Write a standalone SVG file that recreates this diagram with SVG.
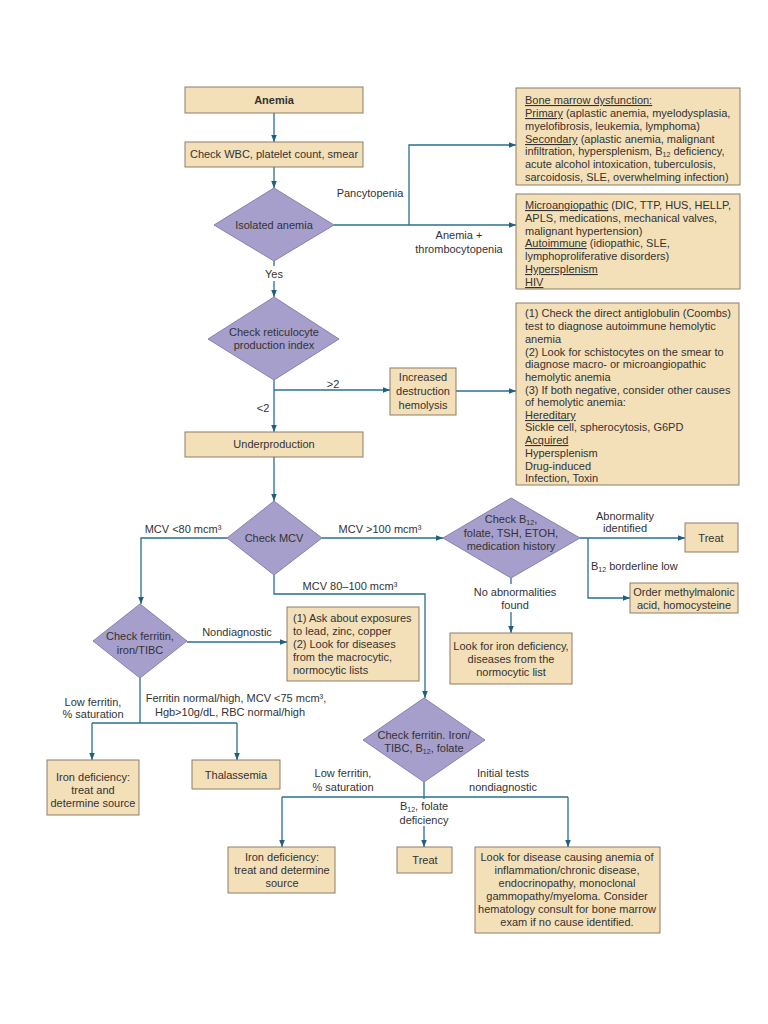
<svg xmlns="http://www.w3.org/2000/svg" width="768" height="1024" viewBox="0 0 768 1024">
<style>
text{font-family:"Liberation Sans",Arial,sans-serif;font-size:11px;fill:#333}
.c{text-anchor:middle}
.b{fill:#f3dfb8;stroke:#8f7d68;stroke-width:1}
.d{fill:#a69ecb;stroke:#8880b3;stroke-width:1}
.l{fill:none;stroke:#2b6e8e;stroke-width:1.3}
.u{text-decoration:underline}
.s{font-size:7px}
</style>
<defs>
<marker id="a" viewBox="0 0 10 10" refX="10" refY="5" markerWidth="7" markerHeight="7" orient="auto" markerUnits="userSpaceOnUse">
<path d="M0,1 L10,5 L0,9 z" fill="#1f5f80"/>
</marker>
</defs>
<rect width="768" height="1024" fill="#fff"/>

<g id="connectors">
<path class="l" d="M274,113 V142" marker-end="url(#a)"/>
<path class="l" d="M274,167 V188" marker-end="url(#a)"/>
<path class="l" d="M334,225 H516" marker-end="url(#a)"/>
<path class="l" d="M409,225 V145 H516" marker-end="url(#a)"/>
<path class="l" d="M274,261 V266"/>
<path class="l" d="M274,281 V297" marker-end="url(#a)"/>
<path class="l" d="M274,380 V432" marker-end="url(#a)"/>
<path class="l" d="M274,390 H390" marker-end="url(#a)"/>
<path class="l" d="M456,391 H516" marker-end="url(#a)"/>
<path class="l" d="M274,457 V501" marker-end="url(#a)"/>
<path class="l" d="M227,538 H141 V604" marker-end="url(#a)"/>
<path class="l" d="M322,538 H443" marker-end="url(#a)"/>
<path class="l" d="M274,575 V594 H425 V698" marker-end="url(#a)"/>
<path class="l" d="M580,538 H685" marker-end="url(#a)"/>
<path class="l" d="M588,538 V598 H630" marker-end="url(#a)"/>
<path class="l" d="M511,578 V584"/>
<path class="l" d="M511,612 V633" marker-end="url(#a)"/>
<path class="l" d="M187,642 H287" marker-end="url(#a)"/>
<path class="l" d="M140,678 V723"/>
<path class="l" d="M92,723 H237"/>
<path class="l" d="M92,723 V760" marker-end="url(#a)"/>
<path class="l" d="M237,723 V760" marker-end="url(#a)"/>
<path class="l" d="M424,782 V797"/>
<path class="l" d="M282,797 H568"/>
<path class="l" d="M282,797 V847" marker-end="url(#a)"/>
<path class="l" d="M568,797 V847" marker-end="url(#a)"/>
<path class="l" d="M424,797 V799"/>
<path class="l" d="M424,826 V847" marker-end="url(#a)"/>
</g>

<g id="labels">
<text class="c" x="370" y="197">Pancytopenia</text>
<text class="c" x="459" y="239">Anemia +</text>
<text class="c" x="459" y="253">thrombocytopenia</text>
<text class="c" x="274" y="278">Yes</text>
<text class="c" x="333" y="388">&gt;2</text>
<text class="c" x="263" y="412">&lt;2</text>
<text class="c" x="183" y="533">MCV &lt;80 mcm³</text>
<text class="c" x="380" y="533">MCV &gt;100 mcm³</text>
<text class="c" x="350" y="590">MCV 80–100 mcm³</text>
<text class="c" x="625" y="520">Abnormality</text>
<text class="c" x="625" y="532">identified</text>
<text x="591" y="570">B<tspan class="s" dy="2">12</tspan><tspan dy="-2"> borderline low</tspan></text>
<text class="c" x="515" y="596">No abnormalities</text>
<text class="c" x="515" y="609">found</text>
<text class="c" x="237" y="636">Nondiagnostic</text>
<text class="c" x="93" y="706">Low ferritin,</text>
<text class="c" x="93" y="718">% saturation</text>
<text class="c" x="236" y="702">Ferritin normal/high, MCV &lt;75 mcm³,</text>
<text class="c" x="230" y="716">Hgb&gt;10g/dL, RBC normal/high</text>
<text class="c" x="343" y="777">Low ferritin,</text>
<text class="c" x="343" y="791">% saturation</text>
<text class="c" x="503" y="777">Initial tests</text>
<text class="c" x="503" y="791">nondiagnostic</text>
<text class="c" x="424" y="810">B<tspan class="s" dy="2">12</tspan><tspan dy="-2">, folate</tspan></text>
<text class="c" x="424" y="824">deficiency</text>
</g>

<g id="anemia">
<rect class="b" x="185" y="87" width="178" height="26"/>
<text class="c" x="274" y="104" font-weight="bold">Anemia</text>
</g>
<g id="check-wbc">
<rect class="b" x="185" y="142" width="178" height="25"/>
<text class="c" x="274" y="158">Check WBC, platelet count, smear</text>
</g>
<g id="isolated-anemia">
<polygon class="d" points="274,188 334,225 274,261 214,225"/>
<text class="c" x="274" y="229">Isolated anemia</text>
</g>
<g id="bone-marrow">
<rect class="b" x="516" y="88" width="224" height="97"/>
<text x="525" y="104"><tspan class="u">Bone marrow dysfunction:</tspan></text>
<text x="525" y="117"><tspan class="u">Primary</tspan> (aplastic anemia, myelodysplasia,</text>
<text x="525" y="130">myelofibrosis, leukemia, lymphoma)</text>
<text x="525" y="143"><tspan class="u">Secondary</tspan> (aplastic anemia, malignant</text>
<text x="525" y="155">infiltration, hypersplenism, B<tspan class="s" dy="2">12</tspan><tspan dy="-2"> deficiency,</tspan></text>
<text x="525" y="168">acute alcohol intoxication, tuberculosis,</text>
<text x="525" y="181">sarcoidosis, SLE, overwhelming infection)</text>
</g>
<g id="microangiopathic">
<rect class="b" x="516" y="194" width="224" height="95"/>
<text x="525" y="209"><tspan class="u">Microangiopathic</tspan> (DIC, TTP, HUS, HELLP,</text>
<text x="525" y="222">APLS, medications, mechanical valves,</text>
<text x="525" y="235">malignant hypertension)</text>
<text x="525" y="247"><tspan class="u">Autoimmune</tspan> (idiopathic, SLE,</text>
<text x="525" y="260">lymphoproliferative disorders)</text>
<text x="525" y="273"><tspan class="u">Hypersplenism</tspan></text>
<text x="525" y="286"><tspan class="u">HIV</tspan></text>
</g>
<g id="reticulocyte">
<polygon class="d" points="274,297 339,339 274,380 208,339"/>
<text class="c" x="274" y="336">Check reticulocyte</text>
<text class="c" x="274" y="349">production index</text>
</g>
<g id="destruction">
<rect class="b" x="390" y="368" width="66" height="47"/>
<text class="c" x="423" y="381">Increased</text>
<text class="c" x="423" y="395">destruction</text>
<text class="c" x="423" y="409">hemolysis</text>
</g>
<g id="hemolysis-box">
<rect class="b" x="516" y="303" width="223" height="182"/>
<text x="525" y="317">(1) Check the direct antiglobulin (Coombs)</text>
<text x="525" y="330">test to diagnose autoimmune hemolytic</text>
<text x="525" y="343">anemia</text>
<text x="525" y="356">(2) Look for schistocytes on the smear to</text>
<text x="525" y="368">diagnose macro- or microangiopathic</text>
<text x="525" y="381">hemolytic anemia</text>
<text x="525" y="394">(3) If both negative, consider other causes</text>
<text x="525" y="406">of hemolytic anemia:</text>
<text x="525" y="419"><tspan class="u">Hereditary</tspan></text>
<text x="525" y="431">Sickle cell, spherocytosis, G6PD</text>
<text x="525" y="444"><tspan class="u">Acquired</tspan></text>
<text x="525" y="457">Hypersplenism</text>
<text x="525" y="470">Drug-induced</text>
<text x="525" y="482">Infection, Toxin</text>
</g>
<g id="underproduction">
<rect class="b" x="185" y="432" width="178" height="25"/>
<text class="c" x="274" y="448">Underproduction</text>
</g>
<g id="check-mcv">
<polygon class="d" points="274,501 322,538 274,575 227,538"/>
<text class="c" x="274" y="542">Check MCV</text>
</g>
<g id="check-b12">
<polygon class="d" points="511,498 580,538 511,578 443,538"/>
<text class="c" x="511" y="523">Check B<tspan class="s" dy="2">12</tspan><tspan dy="-2">,</tspan></text>
<text class="c" x="511" y="537">folate, TSH, ETOH,</text>
<text class="c" x="511" y="550">medication history</text>
</g>
<g id="treat-1">
<rect class="b" x="685" y="523" width="53" height="29"/>
<text class="c" x="711" y="542">Treat</text>
</g>
<g id="order-mma">
<rect class="b" x="630" y="583" width="108" height="30"/>
<text class="c" x="684" y="596">Order methylmalonic</text>
<text class="c" x="684" y="609">acid, homocysteine</text>
</g>
<g id="look-iron">
<rect class="b" x="450" y="633" width="122" height="51"/>
<text class="c" x="511" y="650">Look for iron deficiency,</text>
<text class="c" x="511" y="663">diseases from the</text>
<text class="c" x="511" y="676">normocytic list</text>
</g>
<g id="check-ferritin">
<polygon class="d" points="140,604 187,641 140,678 93,641"/>
<text class="c" x="140" y="640">Check ferritin,</text>
<text class="c" x="140" y="654">iron/TIBC</text>
</g>
<g id="exposures">
<rect class="b" x="287" y="607" width="132" height="74"/>
<text x="293" y="622">(1) Ask about exposures</text>
<text x="293" y="635">to lead, zinc, copper</text>
<text x="293" y="648">(2) Look for diseases</text>
<text x="293" y="661">from the macrocytic,</text>
<text x="293" y="674">normocytic lists</text>
</g>
<g id="iron-def-1">
<rect class="b" x="47" y="760" width="92" height="55"/>
<text class="c" x="93" y="781">Iron deficiency:</text>
<text class="c" x="93" y="794">treat and</text>
<text class="c" x="93" y="807">determine source</text>
</g>
<g id="thalassemia">
<rect class="b" x="192" y="760" width="88" height="29"/>
<text class="c" x="236" y="779">Thalassemia</text>
</g>
<g id="check-ferritin-2">
<polygon class="d" points="424,698 485,740 424,782 363,740"/>
<text class="c" x="424" y="739">Check ferritin. Iron/</text>
<text class="c" x="424" y="752">TIBC, B<tspan class="s" dy="2">12</tspan><tspan dy="-2">, folate</tspan></text>
</g>
<g id="iron-def-2">
<rect class="b" x="228" y="847" width="107" height="46"/>
<text class="c" x="282" y="861">Iron deficiency:</text>
<text class="c" x="282" y="874">treat and determine</text>
<text class="c" x="282" y="887">source</text>
</g>
<g id="treat-2">
<rect class="b" x="397" y="847" width="55" height="26"/>
<text class="c" x="425" y="864">Treat</text>
</g>
<g id="chronic-disease">
<rect class="b" x="475" y="847" width="185" height="86"/>
<text class="c" x="567" y="861">Look for disease causing anemia of</text>
<text class="c" x="567" y="874">inflammation/chronic disease,</text>
<text class="c" x="567" y="887">endocrinopathy, monoclonal</text>
<text class="c" x="567" y="900">gammopathy/myeloma. Consider</text>
<text class="c" x="567" y="913">hematology consult for bone marrow</text>
<text class="c" x="567" y="926">exam if no cause identified.</text>
</g>
</svg>
